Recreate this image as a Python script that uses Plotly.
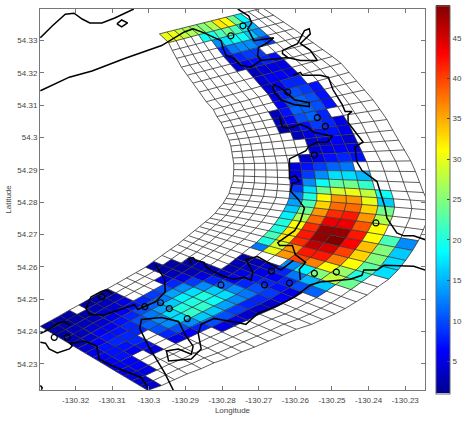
import numpy as np
import plotly.graph_objects as go
from plotly.colors import sample_colorscale

# Grid edges, one point per station along the channel
inner_lon = [-130.2971, -130.2946, -130.2936, -130.2925, -130.2911, -130.2895, -130.2879, -130.2862, -130.2843, -130.2824,
             -130.2814, -130.2803, -130.2795, -130.2787, -130.2781, -130.2776, -130.2773, -130.2770, -130.2768, -130.2768,
             -130.2768, -130.2770, -130.2776, -130.2781, -130.2789, -130.2797, -130.2808, -130.2819, -130.2833, -130.2846,
             -130.2860, -130.2873, -130.2890, -130.2906, -130.2922, -130.2941, -130.2963, -130.2987, -130.3009, -130.3035,
             -130.3061, -130.3087, -130.3113, -130.3139, -130.3165, -130.3191, -130.3217, -130.3242, -130.3268, -130.3296]
inner_lat = [54.3321, 54.3294, 54.3270, 54.3245, 54.3218, 54.3193, 54.3169, 54.3141, 54.3111, 54.3087,
             54.3065, 54.3047, 54.3029, 54.3010, 54.2992, 54.2974, 54.2956, 54.2937, 54.2919, 54.2901,
             54.2882, 54.2864, 54.2846, 54.2827, 54.2812, 54.2797, 54.2782, 54.2766, 54.2751, 54.2739,
             54.2724, 54.2712, 54.2696, 54.2684, 54.2669, 54.2654, 54.2635, 54.2617, 54.2599, 54.2582,
             54.2566, 54.2549, 54.2532, 54.2516, 54.2499, 54.2482, 54.2466, 54.2449, 54.2433, 54.2416]
outer_lon = [-130.2689, -130.2659, -130.2632, -130.2605, -130.2578, -130.2551, -130.2524, -130.2499, -130.2475, -130.2453,
             -130.2432, -130.2410, -130.2388, -130.2369, -130.2350, -130.2334, -130.2318, -130.2301, -130.2285, -130.2272,
             -130.2261, -130.2250, -130.2239, -130.2234, -130.2239, -130.2250, -130.2264, -130.2280, -130.2299, -130.2320,
             -130.2345, -130.2375, -130.2404, -130.2434, -130.2464, -130.2491, -130.2524, -130.2556, -130.2597, -130.2635,
             -130.2673, -130.2711, -130.2746, -130.2784, -130.2822, -130.2857, -130.2895, -130.2930, -130.2965, -130.3003]
outer_lat = [54.3401, 54.3379, 54.3358, 54.3337, 54.3315, 54.3294, 54.3273, 54.3251, 54.3230, 54.3202,
             54.3175, 54.3148, 54.3117, 54.3087, 54.3056, 54.3023, 54.2992, 54.2962, 54.2928, 54.2895,
             54.2861, 54.2830, 54.2803, 54.2776, 54.2745, 54.2715, 54.2681, 54.2651, 54.2620, 54.2590,
             54.2562, 54.2538, 54.2513, 54.2492, 54.2471, 54.2455, 54.2437, 54.2422, 54.2407, 54.2388,
             54.2370, 54.2352, 54.2337, 54.2318, 54.2303, 54.2285, 54.2269, 54.2251, 54.2233, 54.2218]

# One row per along-channel step, one column per across-channel step, 0 = no value
cell_values = [
    [30, 30, 28, 27, 26, 25, 27, 32, 31, 24, 18, 0, 0, 0],
    [0, 0, 0, 0, 19, 20, 22, 24, 22, 18, 15, 0, 0, 0],
    [0, 0, 0, 0, 0, 13, 17, 19, 19, 16, 13, 0, 0, 0],
    [0, 0, 0, 0, 0, 8, 12, 13, 13, 11, 9, 0, 0, 0],
    [0, 0, 0, 0, 0, 5, 8, 9, 9, 0, 0, 0, 0, 0],
    [0, 0, 0, 0, 0, 4, 6, 7, 8, 7, 0, 0, 0, 0],
    [0, 0, 0, 0, 0, 0, 3, 4, 5, 5, 0, 0, 0, 0],
    [0, 0, 0, 0, 0, 0, 4, 6, 6, 5, 0, 0, 0, 0],
    [0, 0, 0, 0, 0, 0, 4, 6, 8, 8, 0, 0, 0, 0],
    [0, 0, 0, 0, 0, 0, 5, 8, 10, 9, 7, 0, 0, 0],
    [0, 0, 0, 0, 0, 0, 6, 10, 11, 10, 7, 0, 0, 0],
    [0, 0, 0, 0, 0, 3, 7, 11, 11, 10, 7, 0, 0, 0],
    [0, 0, 0, 0, 0, 3, 6, 10, 11, 8, 0, 0, 0, 0],
    [0, 0, 0, 0, 0, 2, 4, 7, 9, 8, 5, 0, 0, 0],
    [0, 0, 0, 0, 0, 0, 3, 5, 7, 7, 5, 0, 0, 0],
    [0, 0, 0, 0, 0, 0, 0, 4, 5, 6, 4, 0, 0, 0],
    [0, 0, 0, 0, 0, 0, 0, 4, 5, 6, 5, 0, 0, 0],
    [0, 0, 0, 0, 0, 0, 4, 5, 7, 8, 7, 0, 0, 0],
    [0, 0, 0, 0, 0, 5, 7, 9, 11, 12, 0, 0, 0, 0],
    [0, 0, 0, 0, 0, 5, 9, 13, 17, 17, 15, 0, 0, 0],
    [0, 0, 0, 0, 0, 6, 13, 19, 23, 24, 21, 0, 0, 0],
    [0, 0, 0, 0, 0, 9, 17, 24, 29, 30, 28, 19, 0, 0],
    [0, 0, 0, 0, 0, 12, 20, 31, 36, 36, 30, 16, 0, 0],
    [0, 0, 0, 0, 0, 14, 22, 33, 38, 38, 33, 24, 0, 0],
    [0, 0, 0, 0, 0, 16, 24, 36, 41, 42, 36, 27, 0, 0],
    [0, 0, 0, 0, 0, 18, 27, 38, 44, 44, 39, 31, 0, 0],
    [0, 0, 0, 0, 0, 20, 31, 41, 48, 48, 42, 31, 22, 13],
    [0, 0, 0, 0, 0, 20, 32, 42, 48, 49, 43, 34, 25, 16],
    [0, 0, 0, 0, 0, 22, 32, 41, 46, 45, 40, 33, 25, 17],
    [0, 0, 0, 0, 0, 20, 29, 36, 42, 42, 37, 31, 23, 17],
    [0, 0, 0, 0, 0, 12, 30, 36, 40, 37, 31, 26, 20, 0],
    [0, 0, 0, 0, 0, 0, 0, 0, 13, 18, 25, 28, 24, 0],
    [0, 0, 0, 0, 0, 2, 3, 4, 8, 12, 15, 16, 0, 0],
    [0, 0, 0, 0, 0, 3, 4, 5, 6, 8, 10, 11, 0, 0],
    [0, 0, 0, 0, 0, 3, 5, 7, 8, 7, 5, 0, 0, 0],
    [0, 0, 2, 3, 3, 4, 6, 8, 10, 9, 6, 0, 0, 0],
    [0, 2, 2, 3, 5, 8, 11, 13, 12, 8, 4, 0, 0, 0],
    [2, 2, 3, 5, 9, 13, 16, 17, 13, 8, 4, 0, 0, 0],
    [0, 0, 5, 8, 13, 17, 20, 19, 14, 9, 4, 0, 0, 0],
    [0, 0, 0, 10, 14, 18, 20, 21, 16, 10, 5, 0, 0, 0],
    [0, 0, 0, 9, 12, 16, 20, 21, 16, 10, 5, 0, 0, 0],
    [0, 0, 0, 8, 11, 14, 17, 17, 13, 8, 0, 0, 0, 0],
    [2, 3, 5, 7, 10, 12, 13, 13, 10, 6, 0, 0, 0, 0],
    [2, 3, 4, 6, 8, 10, 11, 10, 8, 5, 0, 0, 0, 0],
    [2, 3, 4, 5, 7, 8, 8, 0, 0, 0, 0, 0, 0, 0],
    [0, 2, 3, 4, 6, 7, 8, 8, 7, 5, 0, 0, 0, 0],
    [2, 2, 3, 4, 6, 7, 8, 7, 6, 0, 0, 0, 0, 0],
    [2, 2, 3, 3, 4, 6, 7, 7, 7, 6, 6, 5, 0, 0],
    [2, 2, 2, 3, 3, 4, 5, 6, 6, 6, 5, 5, 4, 4],
]

# Coastline pieces
coast_lines = [
    ([-130.3296, -130.3263, -130.3228, -130.3204, -130.3182, -130.3161, -130.3128, -130.3093, -130.3041],
     [54.3309, 54.3346, 54.3382, 54.3385, 54.3367, 54.3355, 54.3355, 54.3370, 54.3398]),
    ([-130.3087, -130.3074, -130.3058, -130.3074, -130.3087],
     [54.3352, 54.3364, 54.3355, 54.3343, 54.3352]),
    ([-130.3296, -130.3217, -130.3155, -130.3066, -130.2965, -130.2938, -130.2903, -130.2879, -130.2849, -130.2803,
      -130.2797, -130.2789, -130.2768, -130.2749, -130.2721, -130.2694, -130.2648, -130.2621, -130.2586, -130.2540,
      -130.2559, -130.2586, -130.2559, -130.2562, -130.2575, -130.2594, -130.2635, -130.2635, -130.2621],
     [54.3145, 54.3187, 54.3206, 54.3245, 54.3285, 54.3303, 54.3327, 54.3337, 54.3324, 54.3300,
      54.3276, 54.3254, 54.3245, 54.3224, 54.3218, 54.3239, 54.3245, 54.3248, 54.3239, 54.3239,
      54.3270, 54.3291, 54.3321, 54.3337, 54.3331, 54.3291, 54.3270, 54.3260, 54.3248]),
    ([-130.2757, -130.2727, -130.2719, -130.2730, -130.2713, -130.2667, -130.2659, -130.2675, -130.2700, -130.2703, -130.2694],
     [54.3398, 54.3376, 54.3355, 54.3337, 54.3300, 54.3309, 54.3309, 54.3294, 54.3279, 54.3254, 54.3239]),
    ([-130.2605, -130.2586, -130.2581, -130.2532, -130.2510, -130.2497, -130.2472, -130.2464, -130.2445, -130.2456,
      -130.2456, -130.2415, -130.2437, -130.2432, -130.2418, -130.2377, -130.2356, -130.2350, -130.2323, -130.2304,
      -130.2277, -130.2245],
     [54.3193, 54.3202, 54.3193, 54.3193, 54.3187, 54.3148, 54.3102, 54.3081, 54.3081, 54.3071,
      54.3047, 54.2986, 54.2971, 54.2925, 54.2898, 54.2864, 54.2788, 54.2751, 54.2705, 54.2696,
      54.2696, 54.2684]),
    ([-130.2662, -130.2656, -130.2640, -130.2602, -130.2562, -130.2562, -130.2602, -130.2640, -130.2656, -130.2662],
     [54.3157, 54.3138, 54.3117, 54.3102, 54.3096, 54.3108, 54.3117, 54.3154, 54.3163, 54.3157]),
    ([-130.2643, -130.2635, -130.2616, -130.2586, -130.2567, -130.2548, -130.2499, -130.2513, -130.2540, -130.2562,
      -130.2572, -130.2616, -130.2616, -130.2600, -130.2589, -130.2608, -130.2613, -130.2594, -130.2575, -130.2586,
      -130.2602, -130.2648, -130.2643, -130.2608, -130.2600, -130.2572, -130.2589, -130.2586],
     [54.3065, 54.3032, 54.3029, 54.3041, 54.3032, 54.3016, 54.3004, 54.2986, 54.2986, 54.2974,
      54.2959, 54.2934, 54.2873, 54.2882, 54.2864, 54.2858, 54.2834, 54.2812, 54.2782, 54.2742,
      54.2712, 54.2675, 54.2666, 54.2666, 54.2638, 54.2614, 54.2593, 54.2559]),
    ([-130.2245, -130.2277, -130.2358, -130.2377, -130.2413, -130.2418, -130.2450, -130.2494, -130.2532, -130.2559,
      -130.2602, -130.2648, -130.2703, -130.2735, -130.2757, -130.2822, -130.2857, -130.2865, -130.2857, -130.2884,
      -130.2946, -130.2952, -130.2919, -130.2884, -130.2879, -130.2898, -130.2919, -130.2965, -130.3020, -130.3025,
      -130.3001, -130.2957, -130.2933],
     [54.2590, 54.2602, 54.2605, 54.2590, 54.2590, 54.2574, 54.2562, 54.2556, 54.2553, 54.2544,
      54.2507, 54.2480, 54.2455, 54.2422, 54.2428, 54.2440, 54.2422, 54.2394, 54.2346, 54.2315,
      54.2309, 54.2340, 54.2346, 54.2330, 54.2355, 54.2385, 54.2431, 54.2443, 54.2437, 54.2410,
      54.2355, 54.2273, 54.2218]),
    ([-130.2605, -130.2640, -130.2675, -130.2703, -130.2735, -130.2716, -130.2721, -130.2740, -130.2768, -130.2789,
      -130.2822, -130.2843, -130.2849, -130.2873, -130.2879, -130.2890, -130.2884],
     [54.2620, 54.2590, 54.2614, 54.2632, 54.2623, 54.2584, 54.2559, 54.2568, 54.2562, 54.2568,
      54.2584, 54.2599, 54.2614, 54.2620, 54.2629, 54.2626, 54.2611]),
    ([-130.2982, -130.2957, -130.2955, -130.2982, -130.3030, -130.3039, -130.3120, -130.3161, -130.3171, -130.3158,
      -130.3131, -130.3117, -130.3098],
     [54.2608, 54.2562, 54.2523, 54.2492, 54.2468, 54.2483, 54.2452, 54.2452, 54.2471, 54.2507,
      54.2523, 54.2529, 54.2516]),
    ([-130.3296, -130.3272, -130.3250, -130.3231, -130.3215],
     [54.2394, 54.2407, 54.2425, 54.2431, 54.2419]),
    ([-130.3296, -130.3282, -130.3272, -130.3250, -130.3217, -130.3209, -130.3215, -130.3174, -130.3142, -130.3136,
      -130.3101, -130.3055, -130.3020, -130.3001],
     [54.2367, 54.2364, 54.2346, 54.2334, 54.2346, 54.2355, 54.2364, 54.2370, 54.2355, 54.2315,
      54.2294, 54.2273, 54.2257, 54.2224]),
    ([-130.3296, -130.3291, -130.3293],
     [54.2233, 54.2226, 54.2220]),
]

islet_lon = [-130.3258, -130.3223, -130.3128, -130.3011, -130.2968, -130.2944, -130.2895, -130.2803, -130.2684, -130.2665,
             -130.2616, -130.2548, -130.2488, -130.2743, -130.2776, -130.2621, -130.2540, -130.2518, -130.2548, -130.2380]
islet_lat = [54.2382, 54.2382, 54.2507, 54.2477, 54.2489, 54.2471, 54.2440, 54.2544, 54.2544, 54.2587,
             54.2550, 54.2580, 54.2584, 54.3346, 54.3315, 54.3141, 54.3062, 54.3035, 54.2946, 54.2736]

lon_ticks = [-130.32, -130.31, -130.30, -130.29, -130.28, -130.27, -130.26, -130.25, -130.24, -130.23]
lon_labels = ['-130.32', '-130.31', '-130.3', '-130.29', '-130.28', '-130.27', '-130.26', '-130.25', '-130.24', '-130.23']
lat_ticks = [54.23, 54.24, 54.25, 54.26, 54.27, 54.28, 54.29, 54.30, 54.31, 54.32, 54.33]
lat_labels = ['54.23', '54.24', '54.25', '54.26', '54.27', '54.28', '54.29', '54.3', '54.31', '54.32', '54.33']
bar_ticks = [5, 10, 15, 20, 25, 30, 35, 40, 45]

# Matlab style jet
jet = [[0, 'rgb(0,0,143)'], [0.11, 'rgb(0,0,255)'], [0.365, 'rgb(0,255,255)'],
       [0.625, 'rgb(255,255,0)'], [0.875, 'rgb(255,0,0)'], [1, 'rgb(128,0,0)']]
vmin, vmax = 1, 49

n_rows = len(cell_values)
n_cols = len(cell_values[0])
ilon, ilat = np.array(inner_lon), np.array(inner_lat)
olon, olat = np.array(outer_lon), np.array(outer_lat)

# Rings bunch up towards the inside of the bend
t = np.linspace(0, 1, n_cols + 1)
width = np.hypot((olon - ilon) * 1.125, olat - ilat)
skew = 0.25 * np.clip((width - 0.0335) / 0.0245, 0, 1)
frac = t[None, :] - skew[:, None] * (t * (1 - t))[None, :]
node_lon = ilon[:, None] + frac * (olon - ilon)[:, None]
node_lat = ilat[:, None] + frac * (olat - ilat)[:, None]

fig = go.Figure()

# Filled cells, grouped by value so that each colour is one trace
for value in sorted({v for row in cell_values for v in row if v > 0}):
    xs, ys = [], []
    for i in range(n_rows):
        for j in range(n_cols):
            if cell_values[i][j] == value:
                xs += [node_lon[i, j], node_lon[i, j + 1], node_lon[i + 1, j + 1], node_lon[i + 1, j], node_lon[i, j], None]
                ys += [node_lat[i, j], node_lat[i, j + 1], node_lat[i + 1, j + 1], node_lat[i + 1, j], node_lat[i, j], None]
    color = sample_colorscale(jet, [(value - vmin) / (vmax - vmin)])[0]
    fig.add_trace(go.Scatter(x=xs, y=ys, mode='lines', fill='toself', fillcolor=color,
                             line=dict(width=0, color=color), hoverinfo='skip', showlegend=False))

# Mesh lines
mesh_line = dict(color='#333333', width=0.8)
for i in range(n_rows + 1):
    fig.add_trace(go.Scatter(x=node_lon[i], y=node_lat[i], mode='lines', line=mesh_line,
                             hoverinfo='skip', showlegend=False))
for j in range(n_cols + 1):
    fig.add_trace(go.Scatter(x=node_lon[:, j], y=node_lat[:, j], mode='lines', line=mesh_line,
                             hoverinfo='skip', showlegend=False))

# Coast
for lon, lat in coast_lines:
    fig.add_trace(go.Scatter(x=lon, y=lat, mode='lines', line=dict(color='black', width=1.5),
                             hoverinfo='skip', showlegend=False))
fig.add_trace(go.Scatter(x=islet_lon, y=islet_lat, mode='markers',
                         marker=dict(symbol='circle-open', size=6, color='black', line=dict(width=1.2)),
                         hoverinfo='skip', showlegend=False))

# Colorbar only
fig.add_trace(go.Scatter(x=[None], y=[None], mode='markers', showlegend=False,
                         marker=dict(color=[vmin], cmin=vmin, cmax=vmax, colorscale=jet, showscale=True,
                                     colorbar=dict(thicknessmode='pixels', thickness=14, lenmode='pixels', len=388,
                                                   x=1.028, xanchor='left', xpad=0, y=0.5, ypad=0,
                                                   tickvals=bar_ticks, ticks='inside', ticklen=3,
                                                   tickcolor='#444444', outlinecolor='#666666', outlinewidth=1,
                                                   tickfont=dict(family='Liberation Sans', size=8, color='#444444')))))

axis_style = dict(showgrid=False, zeroline=False, showline=True, linecolor='#777777', linewidth=1,
                  mirror='ticks', ticks='inside', ticklen=4, tickcolor='#777777',
                  tickfont=dict(family='Liberation Sans', size=8, color='#444444'))
fig.update_layout(width=474, height=421, margin=dict(l=38, r=48, t=8, b=26), plot_bgcolor='white',
                  paper_bgcolor='white', showlegend=False,
                  xaxis=dict(range=[-130.3297, -130.2246], tickvals=lon_ticks, ticktext=lon_labels,
                             ticklabelstandoff=2,
                             title=dict(text='Longitude', standoff=3, font=dict(family='Liberation Sans', size=8, color='#444444')),
                             **axis_style),
                  yaxis=dict(range=[54.2219, 54.3398], tickvals=lat_ticks, ticktext=lat_labels,
                             title=dict(text='Latitude', standoff=4, font=dict(family='Liberation Sans', size=8, color='#444444')),
                             **axis_style))

fig.write_html("out.html", config={'displayModeBar': False},
               post_script="document.body.style.margin='0';")
